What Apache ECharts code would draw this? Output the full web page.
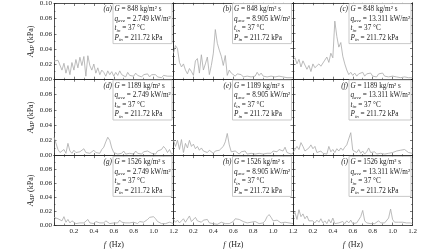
<!DOCTYPE html>
<html><head><meta charset="utf-8">
<script src="https://cdn.jsdelivr.net/npm/echarts@6/dist/echarts.min.js"></script>
<style>html,body{margin:0;padding:0;background:#fff}#c{width:448px;height:252px}</style>
</head><body><div id="c"></div>
<script>
const freq = [0,0.02,0.04,0.06,0.08,0.10,0.12,0.14,0.16,0.18,0.20,0.22,0.24,0.26,0.28,0.30,0.32,0.34,0.36,0.38,0.40,0.42,0.44,0.46,0.48,0.50,0.52,0.54,0.56,0.58,0.60,0.62,0.64,0.66,0.68,0.70,0.72,0.74,0.76,0.78,0.80,0.82,0.84,0.86,0.88,0.90,0.92,0.94,0.96,0.98,1.00,1.02,1.04,1.06,1.08,1.10,1.12,1.14,1.16,1.18,1.20];

const ampA = [.024,.023,.025,.024,.012,.021,.008,.018,.006,.022,.012,.026,.015,.029,.018,.030,.004,.031,.018,.012,.020,.008,.015,.006,.012,.009,.004,.011,.006,.010,.004,.009,.005,.011,.006,.008,.003,.009,.005,.007,.004,.008,.005,.007,.003,.006,.004,.007,.003,.006,.004,.006,.003,.005,.002,.005,.003,.004,.002,.004,.003];
const ampB = [.034,.044,.040,.022,.016,.020,.012,.007,.014,.010,.005,.024,.027,.008,.032,.012,.020,.029,.006,.018,.034,.065,.047,.038,.030,.018,.031,.005,.012,.008,.010,.004,.007,.005,.006,.003,.005,.004,.006,.003,.005,.004,.009,.005,.008,.004,.006,.003,.005,.004,.006,.003,.005,.004,.006,.003,.004,.002,.003,.002,.002];
const ampC = [.025,.028,.020,.026,.016,.024,.022,.013,.018,.010,.020,.015,.014,.020,.017,.018,.025,.029,.022,.034,.028,.076,.056,.042,.048,.030,.020,.012,.006,.009,.005,.008,.004,.007,.005,.009,.004,.007,.005,.008,.004,.006,.003,.007,.005,.008,.004,.006,.003,.005,.004,.006,.003,.005,.002,.004,.003,.004,.002,.003,.002];
const ampD = [.024,.022,.008,.004,.006,.008,.003,.016,.006,.003,.007,.004,.002,.005,.003,.009,.004,.006,.003,.005,.007,.004,.006,.003,.008,.011,.018,.024,.020,.010,.004,.006,.002,.004,.003,.006,.002,.004,.003,.005,.002,.006,.003,.004,.002,.005,.003,.006,.004,.003,.005,.002,.006,.004,.008,.012,.009,.004,.008,.002,.003];
const ampE = [.020,.012,.020,.008,.021,.004,.016,.010,.020,.012,.015,.009,.012,.007,.010,.006,.008,.004,.007,.005,.003,.006,.004,.007,.009,.012,.018,.029,.014,.005,.003,.006,.004,.002,.005,.003,.006,.002,.004,.003,.005,.002,.004,.003,.005,.002,.004,.003,.005,.003,.006,.004,.005,.008,.010,.006,.011,.004,.003,.002,.003];
const ampF = [.004,.008,.012,.008,.017,.012,.006,.004,.010,.014,.009,.012,.004,.002,.006,.003,.005,.002,.012,.005,.008,.004,.009,.006,.010,.007,.011,.014,.016,.030,.007,.009,.004,.008,.003,.006,.002,.005,.010,.004,.003,.005,.002,.004,.003,.005,.002,.004,.003,.002,.004,.003,.006,.004,.007,.005,.008,.010,.004,.002,.003];
const ampG = [.011,.012,.009,.010,.006,.012,.004,.008,.003,.006,.004,.002,.004,.003,.005,.003,.004,.008,.003,.004,.002,.005,.004,.003,.005,.003,.006,.004,.002,.004,.003,.005,.003,.007,.004,.002,.003,.002,.003,.002,.004,.003,.002,.005,.003,.004,.006,.008,.011,.010,.012,.009,.005,.003,.002,.004,.002,.003,.004,.002,.002];
const ampH = [.008,.004,.007,.003,.006,.009,.004,.006,.013,.005,.004,.011,.006,.008,.004,.007,.005,.008,.003,.005,.002,.004,.001,.003,.004,.006,.002,.004,.002,.003,.005,.009,.010,.008,.009,.005,.006,.003,.002,.004,.002,.005,.003,.002,.004,.003,.006,.012,.015,.011,.006,.004,.007,.005,.003,.002,.004,.002,.003,.001,.002];
const ampI = [.014,.018,.008,.022,.012,.016,.009,.013,.006,.004,.006,.003,.007,.004,.009,.003,.006,.002,.008,.003,.010,.002,.004,.003,.002,.005,.002,.006,.003,.007,.002,.004,.003,.005,.012,.021,.006,.003,.004,.002,.003,.002,.004,.006,.003,.002,.003,.002,.010,.023,.008,.004,.003,.004,.003,.004,.002,.003,.002,.003,.002];

const panelSeries = [ampA, ampB, ampC, ampD, ampE, ampF, ampG, ampH, ampI];
const panelLetters = ['a','b','c','d','e','f','g','h','i'];
const massFlux = ['848','1189','1526'];       // per row
const heatFlux = ['2.749','8.905','13.311'];  // per column
const inletTemp = '37';
const inletPress = '211.72';
const xTicks = [0,0.2,0.4,0.6,0.8,1.0,1.2];
const yTicks = [0,0.02,0.04,0.06,0.08,0.10];

const FONT = 'Liberation Serif';
const AX = '#222';
const colLeft = [54, 173.5, 293], colW = 119.5;
const rowTop = [2.8, 79.2, 155.6], rowH = 76.4;
const boxW = [59, 59, 62];
const TXT = 7.2;

const grids = [], xAxes = [], yAxes = [], series = [], graphics = [];
const rich = {
  i: {fontFamily: FONT, fontSize: TXT, fontStyle: 'italic', lineHeight: 9},
  s: {fontFamily: FONT, fontSize: 5, fontStyle: 'italic', lineHeight: 5, verticalAlign: 'bottom'},
  n: {fontFamily: FONT, fontSize: TXT, lineHeight: 9}
};
const nameRich = {
  i: {fontFamily: FONT, fontSize: 8, fontStyle: 'italic', lineHeight: 10},
  s: {fontFamily: FONT, fontSize: 6, fontStyle: 'italic', lineHeight: 6, verticalAlign: 'bottom'},
  n: {fontFamily: FONT, fontSize: 8, lineHeight: 10}
};

for (let r = 0; r < 3; r++) {
  for (let c = 0; c < 3; c++) {
    const p = r * 3 + c;
    grids.push({left: colLeft[c], top: rowTop[r], width: colW, height: rowH});
    const common = {
      gridIndex: p, type: 'value', splitLine: {show: false},
      axisLine: {show: true, onZero: false, lineStyle: {color: AX, width: 0.8}},
      axisTick: {show: true, inside: true, length: 2.5, lineStyle: {color: AX, width: 0.6}},
      minorTick: {show: true, splitNumber: 2, length: 1.5, lineStyle: {color: AX, width: 0.5}},
      minorSplitLine: {show: false}
    };
    xAxes.push(Object.assign({}, common, {
      position: 'bottom', min: xTicks[0], max: xTicks[xTicks.length - 1], interval: 0.2,
      axisLabel: {show: r === 2, fontFamily: FONT, fontSize: 7, color: AX, margin: 3,
        formatter: v => (Math.abs(v) < 1e-9 ? '' : v.toFixed(1))},
      name: r === 2 ? '{i|f} {n|(Hz)}' : '', nameLocation: 'middle', nameGap: 14,
      nameTextStyle: {rich: nameRich}
    }));
    xAxes.push(Object.assign({}, common, {
      position: 'top', min: xTicks[0], max: xTicks[xTicks.length - 1], interval: 0.2,
      axisLabel: {show: false}
    }));
    yAxes.push(Object.assign({}, common, {
      position: 'left', min: yTicks[0], max: yTicks[yTicks.length - 1], interval: 0.02,
      axisLabel: {show: c === 0, fontFamily: FONT, fontSize: 7, color: AX, margin: 2,
        formatter: v => (r > 0 && v > 0.099 ? '' : v.toFixed(2))},
      name: c === 0 ? '{i|A}{s|ΔP}{n| (kPa)}' : '', nameLocation: 'middle', nameGap: 17,
      nameTextStyle: {rich: nameRich}
    }));
    yAxes.push(Object.assign({}, common, {
      position: 'right', min: yTicks[0], max: yTicks[yTicks.length - 1], interval: 0.02,
      axisLabel: {show: false}
    }));
    series.push({
      type: 'line', xAxisIndex: 2 * p, yAxisIndex: 2 * p,
      data: freq.map((f, k) => [f, panelSeries[p][k]]),
      showSymbol: false, silent: true,
      lineStyle: {color: '#aaaaaa', width: 0.8}
    });

    // annotation box
    const bx = colLeft[c] + colW - 1.5 - boxW[c];
    const by = rowTop[r] + 0.8;
    graphics.push({type: 'rect', z: 100, shape: {x: bx, y: by, width: boxW[c], height: 40},
      style: {fill: '#fff', stroke: '#bbbbbb', lineWidth: 0.8}});
    const lines = [
      '{i|G}{n| = ' + massFlux[r] + ' kg/m² s}',
      '{i|q}{s|ave}{n| = ' + heatFlux[c] + ' kW/m²}',
      '{i|t}{s|in}{n| = ' + inletTemp + ' °C}',
      '{i|P}{s|in}{n| = ' + inletPress + ' kPa}'
    ];
    lines.forEach((t, k) => {
      graphics.push({type: 'text', z: 101, x: bx + 1.5, y: by + 6 + k * 9.5,
        style: {text: t, rich: rich, font: TXT + 'px "' + FONT + '"', fill: AX,
          align: 'left', verticalAlign: 'middle', textAlign: 'left', textVerticalAlign: 'middle'}});
    });
    graphics.push({type: 'text', z: 101, x: bx - 1, y: by + 6,
      style: {text: '(' + panelLetters[p] + ')', font: 'italic ' + TXT + 'px "' + FONT + '"', fill: AX,
        align: 'right', verticalAlign: 'middle', textAlign: 'right', textVerticalAlign: 'middle'}});
  }
}

const chart = echarts.init(document.getElementById('c'), null, {renderer: 'canvas'});
chart.setOption({
  animation: false,
  backgroundColor: '#fff',
  grid: grids, xAxis: xAxes, yAxis: yAxes, series: series,
  graphic: graphics
});
</script>
</body></html>
